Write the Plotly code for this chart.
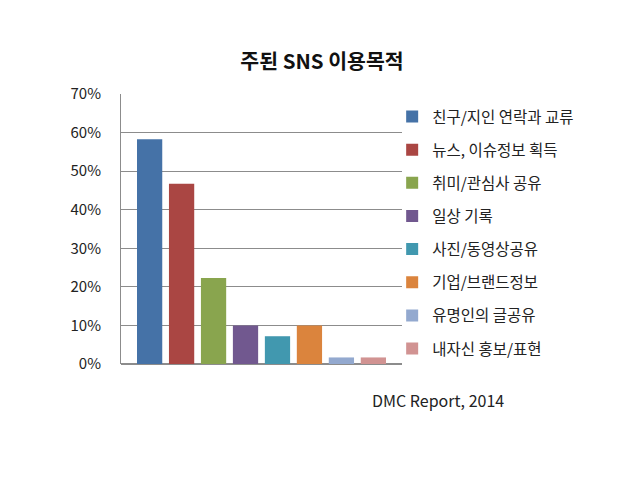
import plotly.graph_objects as go

categories = ["친구/지인 연락과 교류", "뉴스, 이슈정보 획득", "취미/관심사 공유", "일상 기록",
              "사진/동영상공유", "기업/브랜드정보", "유명인의 글공유", "내자신 홍보/표현"]
values = [58.3, 46.7, 22.3, 10.0, 7.2, 10.0, 1.7, 1.7]
colors = ["#4572A7", "#AA4643", "#89A54E", "#71588F", "#4198AF", "#DB843D", "#93A9CF", "#D19392"]
tick_vals = [0, 10, 20, 30, 40, 50, 60, 70]
tick_text = ["0%", "10%", "20%", "30%", "40%", "50%", "60%", "70%"]

font_family = "Noto Sans CJK KR, Open Sans, sans-serif"

# page body has an 8px default margin; compensate
L, T, PW, PH = 113, 86, 281, 270
W, H = 638, 479

fig = go.Figure()
for i, (name, v, c) in enumerate(zip(categories, values, colors)):
    fig.add_trace(go.Bar(x=[""], y=[v], name=name, marker=dict(color=c, line=dict(width=0)),
                         legendgroup=f"g{i}"))

fig.update_layout(
    width=W, height=H,
    margin=dict(l=L, r=W - L - PW, t=T, b=H - T - PH, autoexpand=False),
    paper_bgcolor="white", plot_bgcolor="white",
    barmode="group", bargap=0.09, bargroupgap=0.21,
    font=dict(family=font_family, color="#222222"),
    title=dict(text="<b>주된 SNS 이용목적</b>", x=(322 - 8) / W, xanchor="center",
               y=1 - (62 - 8) / H, yanchor="middle",
               font=dict(size=20.5, color="#111111", family=font_family)),
    showlegend=True,
    legend=dict(x=0.965, y=0.978, xanchor="left", yanchor="top", tracegroupgap=10,
                font=dict(size=15.5, color="#222222", family=font_family),
                bgcolor="rgba(0,0,0,0)", itemwidth=30, maxheight=420),
    xaxis=dict(showticklabels=False, showline=False, showgrid=False, ticks="", fixedrange=True),
    yaxis=dict(range=[0, 70], tickvals=tick_vals, ticktext=tick_text, showgrid=True,
               gridcolor="#8C8C8C", gridwidth=1, showline=True, linecolor="#8C8C8C", linewidth=1,
               zeroline=True, zerolinecolor="#8C8C8C", tickfont=dict(size=15, color="#222222"),
               ticks="", ticklabelstandoff=16, automargin=False),
    annotations=[dict(text="DMC Report, 2014", x=(362 - L) / PW, y=(T + PH - 392) / PH,
                      xref="paper", yref="paper", xanchor="left", yanchor="middle",
                      showarrow=False, font=dict(size=16, color="#222222", family=font_family))],
)

fig.write_html("out.html")
